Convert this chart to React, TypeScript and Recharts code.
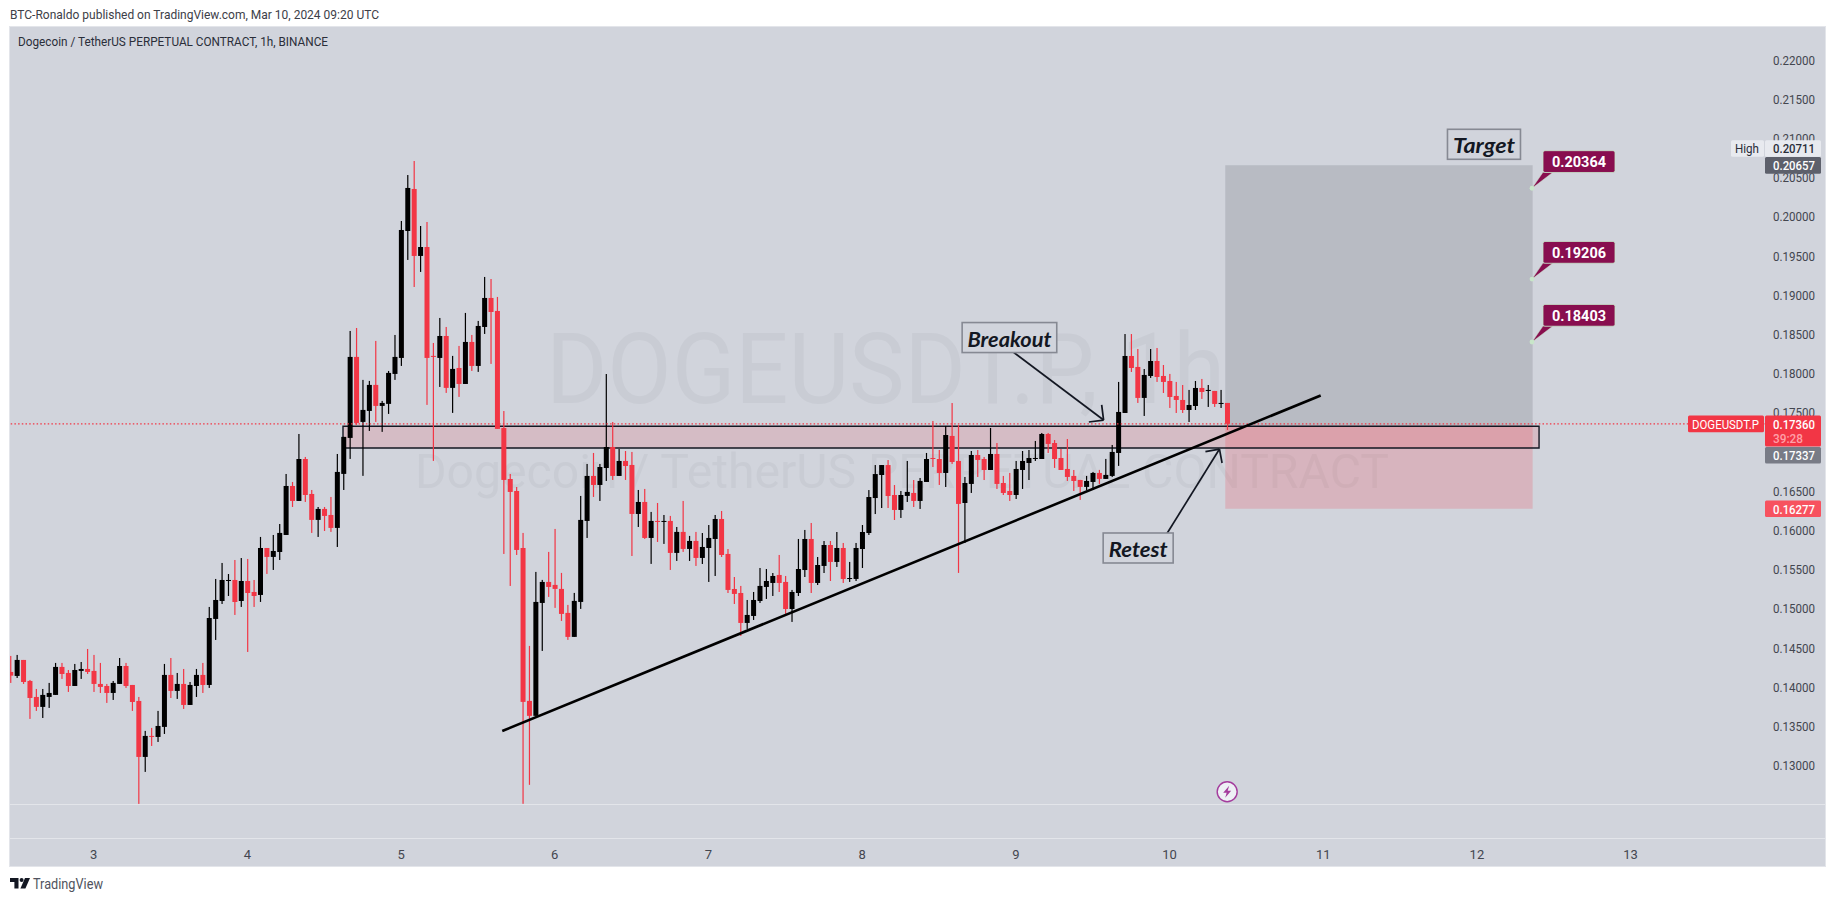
import { Bar, ComposedChart, ReferenceArea, ReferenceDot, ReferenceLine, XAxis, YAxis } from 'recharts'

const FONT = 'Roboto, sans-serif'
const PANE = '#d1d4dc'
const RED = '#f23645'
const INK = '#131722'

// bar number counted in hours from Mar 3 00:00, first visible candle is Mar 2 11:00
const firstBar = -13

const opens = [
  .14195, .14144, .14348, .14080, .13876, .13749, .13876, .13902, .14259, .14182,
  .14016, .14208, .14233, .14208, .14042, .14016, .13927, .14042, .14271, .14029,
  .13825, .13111, .13379, .13366, .13494, .14157, .13953, .14042, .13774, .14016,
  .14157, .14029, .14871, .15100, .15355, .15368, .15100, .15355, .15215, .15177,
  .15776, .15662, .15725, .15942, .16567, .16376, .16911, .16465, .16134, .16274,
  .16197, .16032, .16721, .17180, .18213, .17384, .17524, .17856, .17588, .17614,
  .17996, .18200, .19819, .20355, .19501, .19615, .18226, .18200, .18480, .17818,
  .18072, .17868, .18404, .18098, .18595, .18965, .18799, .17306, .16656, .16503,
  .15776, .13826, .13635, .15075, .15343, .15305, .15254, .14948, .14642, .15088,
  .16121, .16695, .16580, .16796, .17064, .16695, .16886, .16835, .16210, .16363,
  .15904, .16121, .16108, .16121, .15713, .15981, .15764, .15866, .15649, .15776,
  .15891, .16146, .15700, .15253, .15202, .14820, .14909, .15100, .15279, .15330,
  .15432, .15343, .14998, .15202, .15495, .15891, .15330, .15547, .15814, .15598,
  .15776, .15381, .15381, .15763, .15967, .16413, .16707, .16834, .16452, .16261,
  .16440, .16478, .16376, .16618, .16924, .16911, .16733, .17205, .16886, .16350,
  .16593, .16962, .16911, .16771, .16975, .16605, .16503, .16452, .16771, .16860,
  .16911, .16911, .17230, .17115, .16924, .16784, .16695, .16644, .16555, .16618,
  .16733, .16657, .16695, .16988, .17498, .18225, .18085, .17690, .17970, .18161,
  .17970, .17906, .17715, .17664, .17536, .17587, .17817, .17779, .17779, .17613, .17626,
]

const highs = [
  .14399, .14412, .14348, .14093, .13978, .13978, .14055, .14310, .14310, .14220,
  .14297, .14322, .14488, .14412, .14310, .14042, .14080, .14373, .14310, .14029,
  .13876, .13443, .13481, .13698, .14297, .14373, .14182, .14233, .14067, .14233,
  .14310, .15024, .15381, .15585, .15444, .15623, .15648, .15636, .15368, .15917,
  .15776, .15942, .16082, .16720, .16618, .17230, .16937, .16516, .16299, .16299,
  .16427, .16975, .17193, .18544, .18582, .17920, .17907, .18417, .17652, .18034,
  .18493, .19947, .20533, .20712, .19883, .19934, .18391, .18710, .18595, .18226,
  .18353, .18774, .18493, .18672, .19233, .19207, .18978, .17523, .16720, .16554,
  .15968, .14527, .15471, .15369, .15726, .16019, .15458, .15050, .15203, .16440,
  .16848, .16988, .16848, .17995, .17383, .17039, .17013, .17001, .16516, .16529,
  .16236, .16350, .16197, .16185, .16044, .16376, .15930, .15981, .15967, .16069,
  .16197, .16248, .15763, .15406, .15292, .15113, .15215, .15521, .15508, .15457,
  .15687, .15419, .15241, .15891, .16006, .16095, .15661, .15865, .15865, .15980,
  .15840, .15598, .15840, .16069, .16515, .16834, .16834, .16898, .16579, .16503,
  .16886, .16643, .16669, .16988, .17396, .17026, .17332, .17625, .17345, .16682,
  .17013, .17026, .16937, .17307, .17115, .16695, .16733, .16886, .17013, .17026,
  .17141, .17243, .17243, .17153, .17039, .17166, .16771, .16644, .16695, .16746,
  .16772, .16912, .17090, .17894, .18505, .18505, .18314, .18059, .18314, .18327,
  .18110, .17996, .17894, .17855, .17792, .17906, .17932, .17855, .17779, .17792, .17626,
]

const lows = [
  .14055, .14118, .14042, .13596, .13698, .13608, .13736, .13902, .14106, .13940,
  .14016, .14106, .14169, .13940, .13927, .13800, .13838, .14042, .13991, .13698,
  .12512, .12920, .13251, .13302, .13404, .13863, .13851, .13723, .13774, .13876,
  .13927, .13991, .14603, .15062, .15164, .14922, .15024, .14450, .15024, .15088,
  .15445, .15496, .15623, .15942, .16299, .16376, .16363, .15968, .15917, .15993,
  .15981, .15789, .16516, .16912, .17346, .16696, .17269, .17384, .17257, .17486,
  .17920, .18098, .19450, .19105, .19297, .17601, .16887, .17830, .17754, .17499,
  .17703, .17868, .18034, .18022, .18506, .18124, .17295, .15700, .15292, .15687,
  .12513, .12755, .13635, .14463, .15152, .15012, .14846, .14604, .14642, .14999,
  .15904, .16427, .16376, .16631, .16644, .16695, .16644, .15674, .16044, .15891,
  .15573, .15853, .15828, .15496, .15611, .15726, .15611, .15547, .15572, .15343,
  .15419, .15661, .15202, .15062, .14654, .14743, .14858, .15075, .15126, .15164,
  .15215, .14935, .14833, .15164, .15406, .15202, .15304, .15457, .15355, .15534,
  .15330, .15343, .15355, .15521, .15942, .16209, .16286, .16286, .16133, .16159,
  .16363, .16299, .16274, .16618, .16809, .16580, .16554, .16848, .15458, .15840,
  .16478, .16682, .16643, .16771, .16529, .16452, .16376, .16401, .16529, .16643,
  .16886, .16911, .16988, .16797, .16771, .16631, .16503, .16389, .16516, .16516,
  .16593, .16657, .16682, .16823, .17498, .18021, .17626, .17460, .17945, .17894,
  .17753, .17562, .17498, .17498, .17383, .17536, .17677, .17575, .17575, .17562, .17281,
]

const closes = [
  .14148, .14348, .14067, .13863, .13749, .13902, .13927, .14259, .14169, .14016,
  .14220, .14233, .14195, .14042, .14004, .13927, .14055, .14271, .14016, .13812,
  .13111, .13379, .13366, .13506, .14157, .13953, .14042, .13774, .14029, .14157,
  .14029, .14883, .15113, .15368, .15368, .15087, .15355, .15202, .15164, .15776,
  .15662, .15738, .15968, .16567, .16376, .16911, .16452, .16134, .16274, .16185,
  .16032, .16746, .17193, .18213, .17371, .17537, .17856, .17588, .17626, .18009,
  .18213, .19832, .20368, .19501, .19615, .18200, .18213, .18480, .17818, .18060,
  .17868, .18404, .18098, .18608, .18965, .18786, .17295, .16644, .16491, .15751,
  .13813, .13635, .15088, .15343, .15279, .15254, .14935, .14642, .15101, .16134,
  .16695, .16580, .16809, .17064, .16695, .16886, .16822, .16210, .16363, .15904,
  .16121, .16108, .16121, .15713, .15981, .15764, .15866, .15649, .15789, .15904,
  .16146, .15687, .15241, .15190, .14820, .14922, .15113, .15292, .15355, .15419,
  .15330, .14998, .15215, .15508, .15891, .15330, .15559, .15814, .15598, .15776,
  .15381, .15393, .15776, .15980, .16426, .16719, .16834, .16439, .16261, .16452,
  .16491, .16376, .16631, .16911, .16911, .16733, .17217, .16873, .16338, .16605,
  .16962, .16899, .16771, .16975, .16593, .16478, .16452, .16784, .16886, .16924,
  .16924, .17230, .17103, .16911, .16771, .16682, .16631, .16555, .16631, .16733,
  .16657, .16708, .17001, .17511, .18225, .18072, .17690, .17983, .18161, .17957,
  .17894, .17702, .17664, .17536, .17600, .17817, .17766, .17792, .17613, .17626, .17360,
]

const dayTicks = [0, 24, 48, 72, 96, 120, 144, 168, 192, 216, 240]
const dayLabels = ['3', '4', '5', '6', '7', '8', '9', '10', '11', '12', '13']
const priceTicks = [
  .13, .135, .14, .145, .15, .155, .16, .165, .17, .175,
  .18, .185, .19, .195, .2, .205, .21, .215, .22,
]

const lastPrice = 0.1736
const targetPrice = 0.20657
const stopPrice = 0.16277
const entryPrice = 0.17337
const levelPrices = [0.20364, 0.19206, 0.18403]

const xDomain = [-13.07, 261.14]
const yDomain = [0.12077, 0.22421]

const data = opens.map((open, n) => ({
  bar: firstBar + n,
  open,
  close: closes[n],
  range: [lows[n], highs[n]],
}))

const CandleShape = (props: any) => {
  const { x, y, width, height, payload } = props
  const low = payload.range[0]
  const high = payload.range[1]
  const at = (price: number) => y + ((high - price) / (high - low)) * height
  const up = payload.close >= payload.open
  const color = up ? '#000000' : RED
  const top = at(Math.max(payload.open, payload.close))
  const bottom = at(Math.min(payload.open, payload.close))
  const mid = x + width / 2
  return (
    <g>
      <rect x={mid - 0.6} y={y} width={1.2} height={height} fill={color} />
      <rect x={mid - 2.5} y={top} width={5} height={Math.max(bottom - top, 1)} fill={color} />
    </g>
  )
}

const PriceTick = (props: any) => (
  <text x={props.x} y={props.y} dominantBaseline="central" fontFamily={FONT} fontSize={13} fill="#43464f" textLength={42} lengthAdjust="spacingAndGlyphs">
    {props.payload.value.toFixed(5)}
  </text>
)

// tag on the price scale, cx is the right edge of the plot
const PriceTag = ({ fill, text, color = '#ffffff', dy = 0, tall = false, side }: any) => (props: any) => {
  const top = props.cy - 8.2 + dy
  return (
    <g>
      {side && <rect x={props.cx - 35} y={top} width={33} height={16.6} rx={1.5} fill={fill} />}
      {side && (
        <text x={props.cx - 31} y={top + 8.6} dominantBaseline="central" fontFamily={FONT} fontSize={13} fill={color} textLength={24} lengthAdjust="spacingAndGlyphs">
          {side}
        </text>
      )}
      <rect x={props.cx - 1} y={top} width={56} height={tall ? 31 : 16.6} rx={1.5} fill={fill} />
      <text x={props.cx + 7} y={top + 8.6} dominantBaseline="central" fontFamily={FONT} fontSize={13} fontWeight={500} fill={color} textLength={42} lengthAdjust="spacingAndGlyphs">
        {text}
      </text>
      {tall && (
        <text x={props.cx + 7} y={top + 22.6} dominantBaseline="central" fontFamily={FONT} fontSize={13} fontWeight={500} fill="#ffa0a8" textLength={30} lengthAdjust="spacingAndGlyphs">
          39:28
        </text>
      )}
    </g>
  )
}

const SymbolTag = (props: any) => (
  <g>
    <rect x={props.cx - 78} y={props.cy - 8.2} width={76} height={16.6} rx={1.5} fill={RED} />
    <text x={props.cx - 74} y={props.cy + 0.4} dominantBaseline="central" fontFamily={FONT} fontSize={13} fill="#ffffff" textLength={67} lengthAdjust="spacingAndGlyphs">
      DOGEUSDT.P
    </text>
  </g>
)

const LevelCallout = (text: string) => (props: any) => {
  const { cx, cy } = props
  return (
    <g>
      <polygon points={`${cx},${cy} ${cx + 11},${cy - 16} ${cx + 21},${cy - 16}`} fill="#880e4f" stroke="#c8e6c9" strokeWidth={0.5} />
      <circle cx={cx} cy={cy} r={2.4} fill="#c8e6c9" />
      <rect x={cx + 11} y={cy - 37.6} width={72} height={21.8} rx={2} fill="#880e4f" stroke="#c8e6c9" strokeWidth={0.8} />
      <text x={cx + 47} y={cy - 26.4} textAnchor="middle" dominantBaseline="central" fontFamily={FONT} fontSize={14} fontWeight={700} fill="#ffffff" textLength={54} lengthAdjust="spacingAndGlyphs">
        {text}
      </text>
    </g>
  )
}

const NoteBox = (text: string, w: number, textW: number) => (props: any) => (
  <g>
    <rect x={props.cx - w / 2} y={props.cy - 15} width={w} height={30} fill={PANE} stroke="#868993" strokeWidth={1.6} />
    <text x={props.cx} y={props.cy + 0.5} textAnchor="middle" dominantBaseline="central" fontFamily="Lato, sans-serif" fontSize={21} fontStyle="italic" fontWeight={700} fill={INK} textLength={textW} lengthAdjust="spacingAndGlyphs">
      {text}
    </text>
  </g>
)

const BoltIcon = (props: any) => (
  <g>
    <ellipse cx={props.cx} cy={props.cy} rx={10} ry={10} fill="#eef0f5" stroke="#a43c9d" strokeWidth={1.4} />
    <path d={`M${props.cx + 2} ${props.cy - 6}L${props.cx - 4} ${props.cy + 1}H${props.cx - 0.5}L${props.cx - 2} ${props.cy + 6}L${props.cx + 4} ${props.cy - 1}H${props.cx + 0.5}Z`} fill="#a43c9d" />
  </g>
)

const line = (a: number[], b: number[]) => [
  { x: a[0], y: a[1] },
  { x: b[0], y: b[1] },
]

const layer: any = { position: 'absolute', left: 0, top: 0 }

export default function App() {
  return (
    <div style={{ position: 'absolute', left: 0, top: 0, width: 1835, height: 901, background: '#ffffff', overflow: 'hidden' }}>
      <div style={{ position: 'absolute', left: 10, top: 27, width: 1815, height: 839, background: PANE, boxShadow: '0 0 0 1px #e3e5ea' }} />
      <div style={{ position: 'absolute', left: 10, top: 804, width: 1815, height: 1, background: '#e3e5ea' }} />
      <div style={{ position: 'absolute', left: 10, top: 838, width: 1815, height: 1, background: '#e3e5ea' }} />

      <svg width={1835} height={901} style={layer}>
        <text x={546} y={403} fontFamily={FONT} fontSize={98} fill="#c9ccd4" textLength={679} lengthAdjust="spacingAndGlyphs">
          DOGEUSDT.P, 1h
        </text>
        <text x={415} y={488} fontFamily={FONT} fontSize={49} fill="#c9ccd4" textLength={974} lengthAdjust="spacingAndGlyphs">
          Dogecoin / TetherUS PERPETUAL CONTRACT
        </text>
        <text x={10} y={19} fontFamily={FONT} fontSize={13} fill="#3d4048" textLength={369} lengthAdjust="spacingAndGlyphs">
          BTC-Ronaldo published on TradingView.com, Mar 10, 2024 09:20 UTC
        </text>
        <text x={18} y={46} fontFamily={FONT} fontSize={13} fill="#2a2e39" textLength={310} lengthAdjust="spacingAndGlyphs">
          Dogecoin / TetherUS PERPETUAL CONTRACT, 1h, BINANCE
        </text>
        <g transform="translate(10 878)" fill="#131722">
          <path d="M0 0h8.5v10.5H4.4V3.9H0z" />
          <circle cx={11.6} cy={2} r={2} />
          <path d="M15 0h5l-4.6 10.5h-5z" />
        </g>
        <text x={33} y={889} fontFamily={FONT} fontSize={14} fill="#50535e" textLength={70} lengthAdjust="spacingAndGlyphs">
          TradingView
        </text>
      </svg>

      <div style={layer}>
        <ComposedChart width={1835} height={901} data={data} margin={{ top: 27, right: 10, bottom: 35, left: 10 }}>
          <XAxis
            dataKey="bar"
            type="number"
            domain={xDomain}
            allowDataOverflow
            ticks={dayTicks}
            interval={0}
            tickFormatter={(v: number) => dayLabels[dayTicks.indexOf(v)]}
            height={28}
            axisLine={false}
            tickLine={false}
            tickMargin={6}
            tick={{ fontFamily: FONT, fontSize: 13, fill: '#43464f' }}
          />
          <YAxis
            orientation="right"
            domain={yDomain}
            allowDataOverflow
            ticks={priceTicks}
            interval={0}
            width={59}
            axisLine={false}
            tickLine={false}
            tickSize={0}
            tickMargin={7}
            tick={PriceTick}
          />
          <ReferenceArea x1={176.7} x2={224.7} y1={entryPrice} y2={targetPrice} fill="#787b86" fillOpacity={0.28} stroke="none" />
          <ReferenceArea x1={176.7} x2={224.7} y1={stopPrice} y2={entryPrice} fill={RED} fillOpacity={0.2} stroke="none" />
          <ReferenceArea x1={38.93} x2={225.7} y1={0.17051} y2={0.17328} fill={RED} fillOpacity={0.15} stroke={INK} strokeWidth={1.4} />
          <ReferenceLine y={lastPrice} stroke={RED} strokeWidth={1.2} strokeDasharray="1.5 2.2" />
          <Bar dataKey="range" barSize={5} isAnimationActive={false} shape={CandleShape} />
          <ReferenceLine segment={line([63.8, 0.13441], [191.6, 0.17721])} stroke="#000000" strokeWidth={2.6} />
          <ReferenceLine segment={line([142.8, 0.18323], [157.7, 0.17408])} stroke={INK} strokeWidth={1.7} />
          <ReferenceLine segment={line([155.4, 0.17383], [157.7, 0.17408])} stroke={INK} strokeWidth={1.7} />
          <ReferenceLine segment={line([157.4, 0.176], [157.7, 0.17408])} stroke={INK} strokeWidth={1.7} />
          <ReferenceLine segment={line([166.8, 0.15856], [175.8, 0.17038])} stroke={INK} strokeWidth={1.7} />
          <ReferenceLine segment={line([173.6, 0.17004], [175.8, 0.17038])} stroke={INK} strokeWidth={1.7} />
          <ReferenceLine segment={line([176.2, 0.1686], [175.8, 0.17038])} stroke={INK} strokeWidth={1.7} />
          <ReferenceDot x={143} y={0.1846} shape={NoteBox('Breakout', 94.6, 84)} />
          <ReferenceDot x={163.1} y={0.15776} shape={NoteBox('Retest', 70, 59)} />
          <ReferenceDot x={217.1} y={0.20925} shape={NoteBox('Target', 73, 62)} />
          {levelPrices.map((price) => (
            <ReferenceDot key={price} x={224.6} y={price} shape={LevelCallout(price.toFixed(5))} />
          ))}
          <ReferenceDot x={177} y={0.12667} shape={BoltIcon} />
        </ComposedChart>
      </div>

      {/* second chart with the same scales so the tags sit on top of the axis ticks */}
      <div style={layer}>
        <ComposedChart width={1835} height={901} data={data} margin={{ top: 27, right: 69, bottom: 63, left: 10 }}>
          <XAxis dataKey="bar" type="number" domain={xDomain} allowDataOverflow hide />
          <YAxis domain={yDomain} allowDataOverflow hide />
          <ReferenceDot x={xDomain[1]} y={0.20711} shape={PriceTag({ fill: '#e8eaef', text: '0.20711', color: '#2a2e39', dy: -12.7, side: 'High' })} />
          <ReferenceDot x={xDomain[1]} y={targetPrice} shape={PriceTag({ fill: '#5d606b', text: '0.20657' })} />
          <ReferenceDot x={xDomain[1]} y={entryPrice} shape={PriceTag({ fill: '#787b86', text: '0.17337', dy: 29.5 })} />
          <ReferenceDot x={xDomain[1]} y={lastPrice} shape={PriceTag({ fill: RED, text: '0.17360', tall: true })} />
          <ReferenceDot x={xDomain[1]} y={lastPrice} shape={SymbolTag} />
          <ReferenceDot x={xDomain[1]} y={stopPrice} shape={PriceTag({ fill: '#f7525f', text: '0.16277' })} />
        </ComposedChart>
      </div>
    </div>
  )
}
